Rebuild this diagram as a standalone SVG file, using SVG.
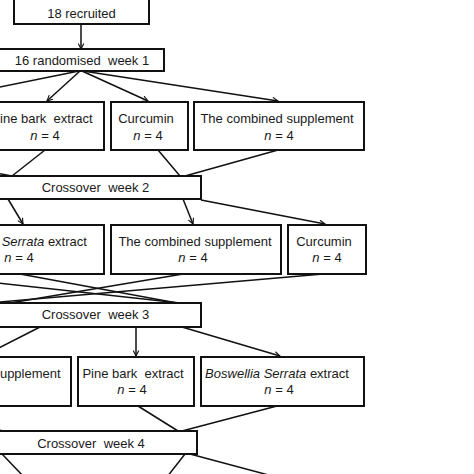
<svg xmlns="http://www.w3.org/2000/svg" width="474" height="474" viewBox="0 0 474 474">
<style>
.box{fill:#fff;stroke:#111;stroke-width:2}
.t{font-family:"Liberation Sans",Arial,sans-serif;font-size:13px;fill:#1a1a1a;text-anchor:middle;white-space:pre}
.i{font-style:italic}
.c{stroke:#111;stroke-width:1.5;fill:none}
</style>
<defs>
<marker id="ah" viewBox="0 0 10 10" refX="9" refY="5" markerWidth="7" markerHeight="7" markerUnits="userSpaceOnUse" orient="auto">
<path d="M1,1 L9,5 L1,9" fill="none" stroke="#111" stroke-width="1.6"/>
</marker>
</defs>
<rect width="474" height="474" fill="#fff"/>
<g id="connectors">
<line class="c" x1="81" y1="24" x2="81" y2="49" marker-end="url(#ah)"/>
<line class="c" x1="79" y1="71" x2="-20" y2="91"/>
<line class="c" x1="80" y1="71" x2="47" y2="101" marker-end="url(#ah)"/>
<line class="c" x1="82" y1="71" x2="148" y2="101" marker-end="url(#ah)"/>
<line class="c" x1="83" y1="71" x2="278" y2="101" marker-end="url(#ah)"/>
<line class="c" x1="45" y1="150" x2="12" y2="176"/>
<line class="c" x1="-20" y1="170" x2="12" y2="176"/>
<line class="c" x1="158" y1="150" x2="180" y2="176"/>
<line class="c" x1="278" y1="150" x2="185" y2="176"/>
<line class="c" x1="8" y1="199" x2="23" y2="224" marker-end="url(#ah)"/>
<line class="c" x1="183" y1="199" x2="193" y2="224" marker-end="url(#ah)"/>
<line class="c" x1="201" y1="200" x2="325" y2="224" marker-end="url(#ah)"/>
<line class="c" x1="20" y1="274" x2="177" y2="303"/>
<line class="c" x1="183" y1="274" x2="10" y2="303"/>
<line class="c" x1="323" y1="274" x2="0" y2="302"/>
<line class="c" x1="-20" y1="281" x2="180" y2="303"/>
<line class="c" x1="136" y1="327" x2="136" y2="356" marker-end="url(#ah)"/>
<line class="c" x1="182" y1="327" x2="280" y2="356" marker-end="url(#ah)"/>
<line class="c" x1="40" y1="327" x2="-5" y2="350"/>
<line class="c" x1="138" y1="406" x2="178" y2="431"/>
<line class="c" x1="277" y1="406" x2="182" y2="431"/>
<line class="c" x1="-10" y1="428" x2="3" y2="431"/>
<line class="c" x1="2" y1="454" x2="24" y2="477"/>
<line class="c" x1="185" y1="454" x2="167" y2="477"/>
<line class="c" x1="190" y1="454" x2="276" y2="477"/>
</g>
<g id="recruited"><rect class="box" x="14" y="-3" width="135" height="27"/><text class="t" x="81.5" y="18">18 recruited</text></g>
<g id="randomised"><rect class="box" x="-5" y="49" width="169" height="22"/><text class="t" x="82" y="64.5">16 randomised  week 1</text></g>
<g id="w1-pine"><rect class="box" x="-14" y="102" width="118" height="48"/><text class="t" x="42" y="122.5">Pine bark  extract</text><text class="t" x="45" y="139.5"><tspan class="i">n</tspan> = 4</text></g>
<g id="w1-curcumin"><rect class="box" x="111" y="102" width="77" height="48"/><text class="t" x="146" y="122.5">Curcumin</text><text class="t" x="148" y="139.5"><tspan class="i">n</tspan> = 4</text></g>
<g id="w1-combined"><rect class="box" x="194" y="102" width="170" height="48"/><text class="t" x="277" y="122.5">The combined supplement</text><text class="t" x="279" y="139.5"><tspan class="i">n</tspan> = 4</text></g>
<g id="crossover2"><rect class="box" x="-5" y="176" width="206" height="23"/><text class="t" x="95.5" y="192">Crossover  week 2</text></g>
<g id="w2-boswellia"><rect class="box" x="-59" y="225" width="163" height="49"/><text class="t" x="15" y="246"><tspan class="i">Boswellia Serrata</tspan> extract</text><text class="t" x="19" y="262"><tspan class="i">n</tspan> = 4</text></g>
<g id="w2-combined"><rect class="box" x="111" y="225" width="170" height="49"/><text class="t" x="195" y="246">The combined supplement</text><text class="t" x="193" y="262"><tspan class="i">n</tspan> = 4</text></g>
<g id="w2-curcumin"><rect class="box" x="288" y="225" width="78" height="49"/><text class="t" x="324" y="246">Curcumin</text><text class="t" x="327" y="262"><tspan class="i">n</tspan> = 4</text></g>
<g id="crossover3"><rect class="box" x="-5" y="303" width="206" height="24"/><text class="t" x="95.5" y="319">Crossover  week 3</text></g>
<g id="w3-combined"><rect class="box" x="-99" y="357" width="170" height="49"/><text class="t" x="-16" y="378">The combined supplement</text><text class="t" x="-16" y="394"><tspan class="i">n</tspan> = 4</text></g>
<g id="w3-pine"><rect class="box" x="78" y="357" width="116" height="49"/><text class="t" x="133" y="378">Pine bark  extract</text><text class="t" x="132" y="394"><tspan class="i">n</tspan> = 4</text></g>
<g id="w3-boswellia"><rect class="box" x="201" y="357" width="163" height="49"/><text class="t" x="277" y="378"><tspan class="i">Boswellia Serrata</tspan> extract</text><text class="t" x="279" y="394"><tspan class="i">n</tspan> = 4</text></g>
<g id="crossover4"><rect class="box" x="-5" y="431" width="202" height="23"/><text class="t" x="91" y="448">Crossover  week 4</text></g>
</svg>
